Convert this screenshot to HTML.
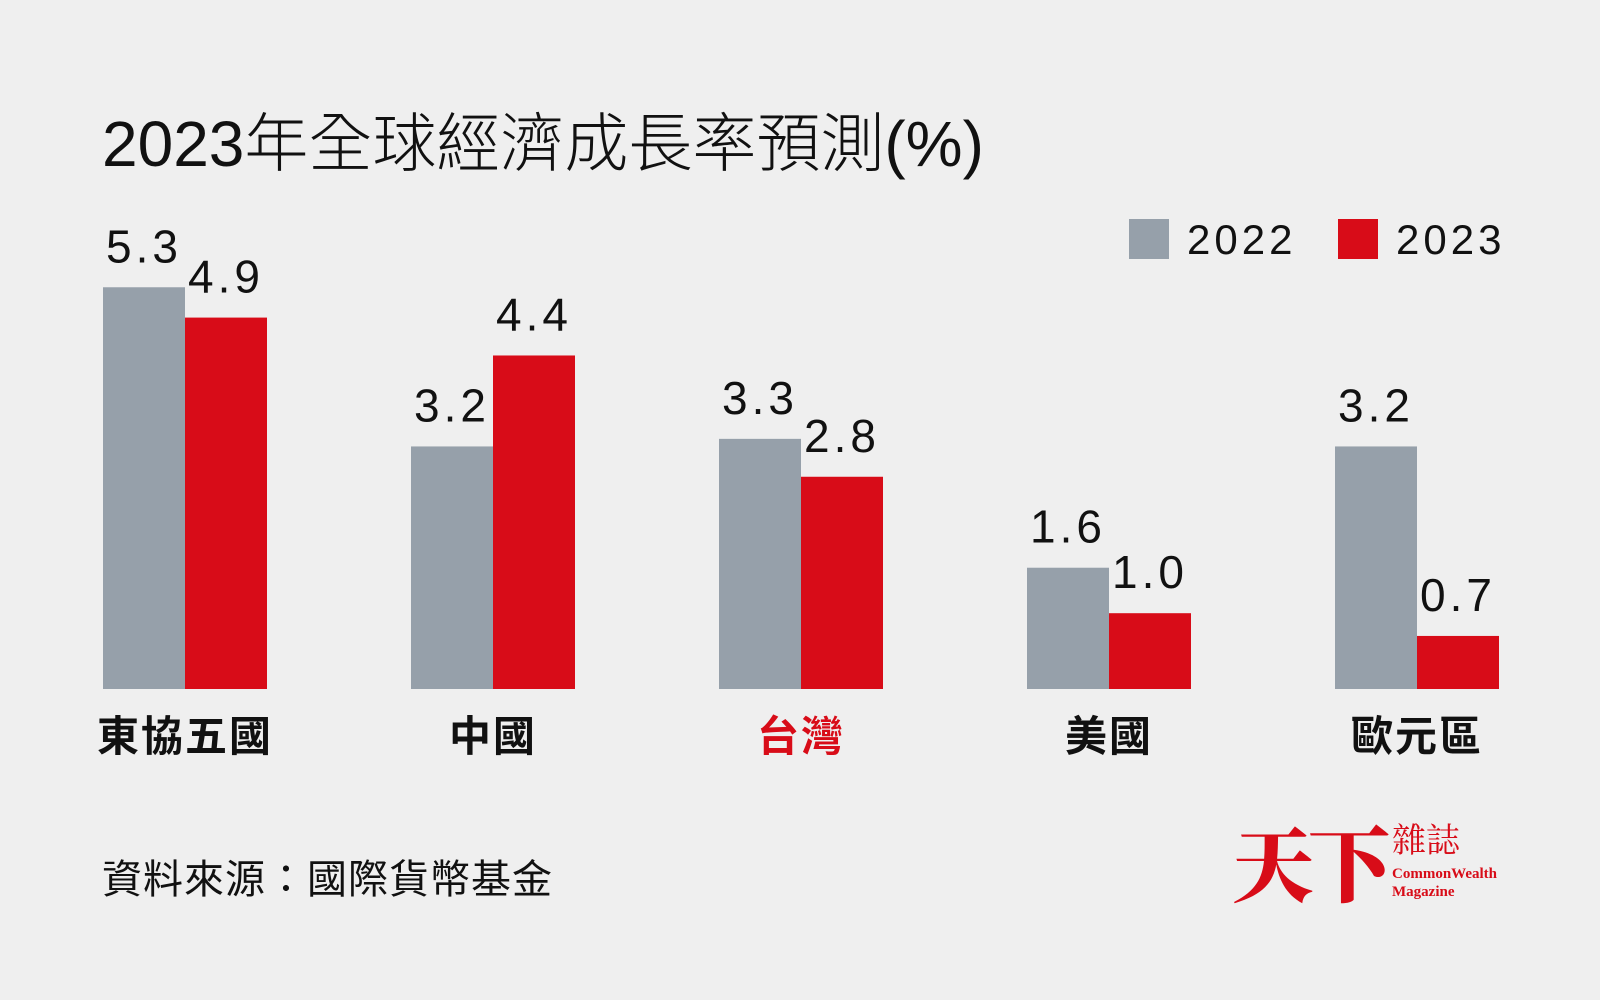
<!DOCTYPE html>
<html><head><meta charset="utf-8"><style>
body{margin:0;width:1600px;height:1000px;background:#efefef;overflow:hidden;font-family:"Liberation Sans","Noto Sans CJK TC",sans-serif;}
svg{display:block}
</style></head><body>
<svg id="chart" width="1600" height="1000" xmlns="http://www.w3.org/2000/svg">
<text x="102" y="166" font-size="64" font-weight="300" fill="#111" font-family="'Liberation Sans','Noto Sans CJK TC',sans-serif">2023年全球經濟成長率預測(%)</text>
<g>
<rect x="1129" y="219" width="40" height="40" fill="#96a0aa"/>
<text x="1187" y="254" font-size="42" letter-spacing="4" fill="#111">2022</text>
<rect x="1338" y="219" width="40" height="40" fill="#d80c18"/>
<text x="1396" y="254" font-size="42" letter-spacing="4" fill="#111">2023</text>
</g>
<g id="bars"></g>
<text x="102" y="893" font-size="40" letter-spacing="1" fill="#111" font-family="'Liberation Sans','Noto Sans CJK TC',sans-serif">資料來源：國際貨幣基金</text>
<g fill="#d80c18" font-family="'Noto Serif CJK SC','Noto Sans CJK TC',serif">
<text x="1232" y="895" font-size="82" font-weight="900" letter-spacing="-6">天下</text>
<text x="1392" y="852" font-size="34">雜誌</text>
<text x="1392" y="878" font-size="15" font-weight="bold" font-family="'Liberation Serif',serif">CommonWealth</text>
<text x="1392" y="896" font-size="15" font-weight="bold" font-family="'Liberation Serif',serif">Magazine</text>
</g>
</svg>
<script>
const categories=["東協五國","中國","台灣","美國","歐元區"];
const values2022=[5.3,3.2,3.3,1.6,3.2];
const values2023=[4.9,4.4,2.8,1.0,0.7];
const ns="http://www.w3.org/2000/svg";
const g=document.getElementById('bars');
const baseY=689, unit=75.8, x0=103, step=308, bw=82;
function yScale(v){return baseY-v*unit;}
function xScale(i){return x0+i*step;}
function mk(tag,attrs){const e=document.createElementNS(ns,tag);for(const k in attrs)e.setAttribute(k,attrs[k]);g.appendChild(e);return e;}
categories.forEach((c,i)=>{
  [[values2022,"#96a0aa",0,"2022"],[values2023,"#d80c18",1,"2023"]].forEach(([arr,col,j,yr])=>{
    const x=xScale(i)+j*bw, y=yScale(arr[i]);
    const r=mk('rect',{x:x,y:y,width:bw,height:baseY-y,fill:col});
    
    
    const t=mk('text',{x:x+bw/2,y:y-25,'font-size':46,'text-anchor':'middle','letter-spacing':4,fill:'#111'});
    t.textContent=arr[i].toFixed(1);
    
    
  });
  const l=mk('text',{x:xScale(i)+bw,y:751,'font-size':42,'font-weight':'bold','text-anchor':'middle','letter-spacing':2,fill:i===2?'#d80c18':'#111'});
  l.textContent=c;
  
  
});
</script>
</body></html>
